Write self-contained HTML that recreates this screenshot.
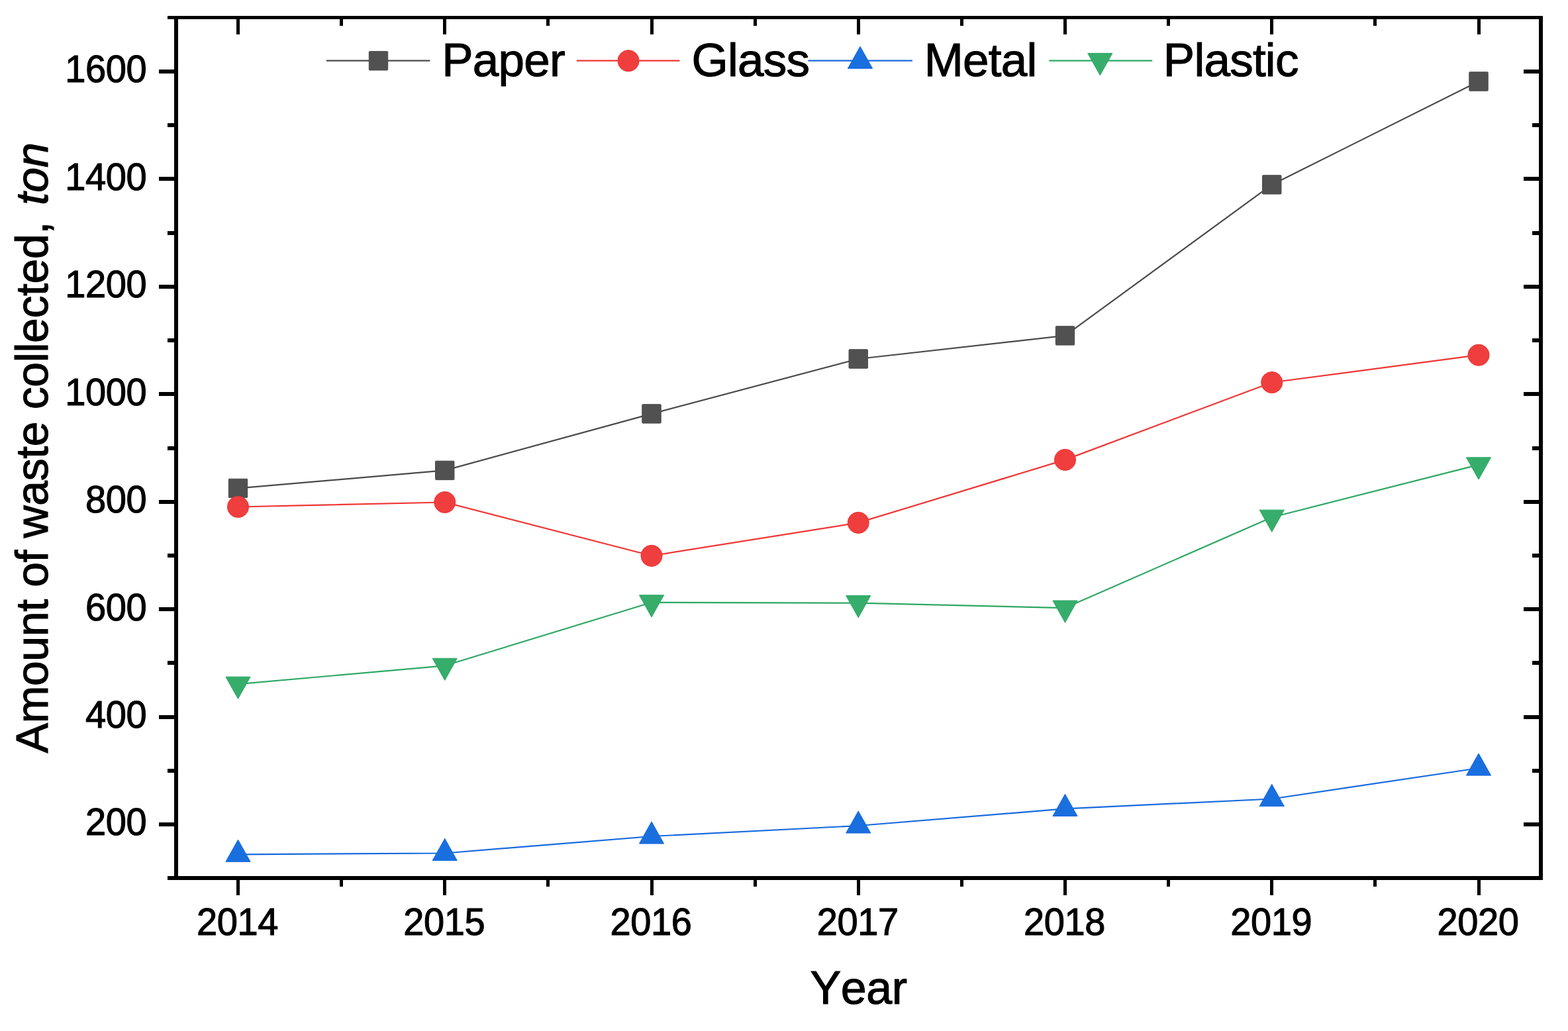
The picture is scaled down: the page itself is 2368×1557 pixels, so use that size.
<!DOCTYPE html>
<html><head><meta charset="utf-8"><title>Amount of waste collected</title>
<style>
html,body{margin:0;padding:0;background:#fff;}
svg{display:block;}
text{font-family:"Liberation Sans",Arial,sans-serif;font-kerning:none;fill:#000;}
</style></head>
<body>
<svg width="2368" height="1557" viewBox="0 0 2368 1557">
<rect x="0" y="0" width="2368" height="1557" fill="#fff"/>
<g id="data">
<polyline points="359.5,737.4 671.75,710.4 984,624.9 1296.25,542 1608.5,506.9 1920.75,278.9 2233,123" fill="none" stroke="#4A4A4A" stroke-width="2.2" stroke-linejoin="round"/>
<rect x="345.3" y="723.2" width="28.4" height="28.4" rx="1" fill="#515151" stroke="#4A4A4A" stroke-width="1"/>
<rect x="657.55" y="696.2" width="28.4" height="28.4" rx="1" fill="#515151" stroke="#4A4A4A" stroke-width="1"/>
<rect x="969.8" y="610.7" width="28.4" height="28.4" rx="1" fill="#515151" stroke="#4A4A4A" stroke-width="1"/>
<rect x="1282.05" y="527.8" width="28.4" height="28.4" rx="1" fill="#515151" stroke="#4A4A4A" stroke-width="1"/>
<rect x="1594.3" y="492.7" width="28.4" height="28.4" rx="1" fill="#515151" stroke="#4A4A4A" stroke-width="1"/>
<rect x="1906.55" y="264.7" width="28.4" height="28.4" rx="1" fill="#515151" stroke="#4A4A4A" stroke-width="1"/>
<rect x="2218.8" y="108.8" width="28.4" height="28.4" rx="1" fill="#515151" stroke="#4A4A4A" stroke-width="1"/>
<polyline points="359.5,765.5 671.75,758.5 984,839.3 1296.25,789.4 1608.5,694.4 1920.75,577.5 2233,536.2" fill="none" stroke="#EF3535" stroke-width="2.2" stroke-linejoin="round"/>
<circle cx="359.5" cy="765.5" r="16.1" fill="#F03E3E" stroke="#EF3535" stroke-width="1"/>
<circle cx="671.75" cy="758.5" r="16.1" fill="#F03E3E" stroke="#EF3535" stroke-width="1"/>
<circle cx="984" cy="839.3" r="16.1" fill="#F03E3E" stroke="#EF3535" stroke-width="1"/>
<circle cx="1296.25" cy="789.4" r="16.1" fill="#F03E3E" stroke="#EF3535" stroke-width="1"/>
<circle cx="1608.5" cy="694.4" r="16.1" fill="#F03E3E" stroke="#EF3535" stroke-width="1"/>
<circle cx="1920.75" cy="577.5" r="16.1" fill="#F03E3E" stroke="#EF3535" stroke-width="1"/>
<circle cx="2233" cy="536.2" r="16.1" fill="#F03E3E" stroke="#EF3535" stroke-width="1"/>
<polyline points="359.5,1290.3 671.75,1288.5 984,1263 1296.25,1247 1608.5,1221.4 1920.75,1206.5 2233,1160" fill="none" stroke="#176BDE" stroke-width="2.2" stroke-linejoin="round"/>
<polygon points="359.5,1268.17 378.1,1301.37 340.9,1301.37" fill="#1A6FDF" stroke="#176BDE" stroke-width="1" stroke-linejoin="round"/>
<polygon points="671.75,1266.37 690.35,1299.57 653.15,1299.57" fill="#1A6FDF" stroke="#176BDE" stroke-width="1" stroke-linejoin="round"/>
<polygon points="984,1240.87 1002.6,1274.07 965.4,1274.07" fill="#1A6FDF" stroke="#176BDE" stroke-width="1" stroke-linejoin="round"/>
<polygon points="1296.25,1224.87 1314.85,1258.07 1277.65,1258.07" fill="#1A6FDF" stroke="#176BDE" stroke-width="1" stroke-linejoin="round"/>
<polygon points="1608.5,1199.27 1627.1,1232.47 1589.9,1232.47" fill="#1A6FDF" stroke="#176BDE" stroke-width="1" stroke-linejoin="round"/>
<polygon points="1920.75,1184.37 1939.35,1217.57 1902.15,1217.57" fill="#1A6FDF" stroke="#176BDE" stroke-width="1" stroke-linejoin="round"/>
<polygon points="2233,1137.87 2251.6,1171.07 2214.4,1171.07" fill="#1A6FDF" stroke="#176BDE" stroke-width="1" stroke-linejoin="round"/>
<polyline points="359.5,1033.2 671.75,1005.3 984,909.8 1296.25,910.6 1608.5,918.1 1920.75,781.2 2233,701.9" fill="none" stroke="#2DA864" stroke-width="2.2" stroke-linejoin="round"/>
<polygon points="340.9,1022.13 378.1,1022.13 359.5,1055.33" fill="#37AD6B" stroke="#2DA864" stroke-width="1" stroke-linejoin="round"/>
<polygon points="653.15,994.23 690.35,994.23 671.75,1027.43" fill="#37AD6B" stroke="#2DA864" stroke-width="1" stroke-linejoin="round"/>
<polygon points="965.4,898.73 1002.6,898.73 984,931.93" fill="#37AD6B" stroke="#2DA864" stroke-width="1" stroke-linejoin="round"/>
<polygon points="1277.65,899.53 1314.85,899.53 1296.25,932.73" fill="#37AD6B" stroke="#2DA864" stroke-width="1" stroke-linejoin="round"/>
<polygon points="1589.9,907.03 1627.1,907.03 1608.5,940.23" fill="#37AD6B" stroke="#2DA864" stroke-width="1" stroke-linejoin="round"/>
<polygon points="1902.15,770.13 1939.35,770.13 1920.75,803.33" fill="#37AD6B" stroke="#2DA864" stroke-width="1" stroke-linejoin="round"/>
<polygon points="2214.4,690.83 2251.6,690.83 2233,724.03" fill="#37AD6B" stroke="#2DA864" stroke-width="1" stroke-linejoin="round"/>
</g>
<g id="axes" shape-rendering="crispEdges">
<rect x="263" y="24" width="6" height="1305" fill="#000"/>
<rect x="2324" y="24" width="6" height="1305" fill="#000"/>
<rect x="253" y="24" width="2077" height="5" fill="#000"/>
<rect x="253" y="1323" width="2077" height="6" fill="#000"/>
<rect x="240" y="1242" width="23" height="6" fill="#000"/>
<rect x="2301" y="1242" width="23" height="6" fill="#000"/>
<rect x="240" y="1079.57" width="23" height="6" fill="#000"/>
<rect x="2301" y="1079.57" width="23" height="6" fill="#000"/>
<rect x="240" y="917.14" width="23" height="6" fill="#000"/>
<rect x="2301" y="917.14" width="23" height="6" fill="#000"/>
<rect x="240" y="754.71" width="23" height="6" fill="#000"/>
<rect x="2301" y="754.71" width="23" height="6" fill="#000"/>
<rect x="240" y="592.29" width="23" height="6" fill="#000"/>
<rect x="2301" y="592.29" width="23" height="6" fill="#000"/>
<rect x="240" y="429.86" width="23" height="6" fill="#000"/>
<rect x="2301" y="429.86" width="23" height="6" fill="#000"/>
<rect x="240" y="267.43" width="23" height="6" fill="#000"/>
<rect x="2301" y="267.43" width="23" height="6" fill="#000"/>
<rect x="240" y="105" width="23" height="6" fill="#000"/>
<rect x="2301" y="105" width="23" height="6" fill="#000"/>
<rect x="253" y="1160.79" width="10" height="6" fill="#000"/>
<rect x="2314" y="1160.79" width="10" height="6" fill="#000"/>
<rect x="253" y="998.36" width="10" height="6" fill="#000"/>
<rect x="2314" y="998.36" width="10" height="6" fill="#000"/>
<rect x="253" y="835.93" width="10" height="6" fill="#000"/>
<rect x="2314" y="835.93" width="10" height="6" fill="#000"/>
<rect x="253" y="673.5" width="10" height="6" fill="#000"/>
<rect x="2314" y="673.5" width="10" height="6" fill="#000"/>
<rect x="253" y="511.07" width="10" height="6" fill="#000"/>
<rect x="2314" y="511.07" width="10" height="6" fill="#000"/>
<rect x="253" y="348.64" width="10" height="6" fill="#000"/>
<rect x="2314" y="348.64" width="10" height="6" fill="#000"/>
<rect x="253" y="186.21" width="10" height="6" fill="#000"/>
<rect x="2314" y="186.21" width="10" height="6" fill="#000"/>
<rect x="357" y="1329" width="5" height="23" fill="#000"/>
<rect x="357" y="29" width="5" height="23" fill="#000"/>
<rect x="669.25" y="1329" width="5" height="23" fill="#000"/>
<rect x="669.25" y="29" width="5" height="23" fill="#000"/>
<rect x="981.5" y="1329" width="5" height="23" fill="#000"/>
<rect x="981.5" y="29" width="5" height="23" fill="#000"/>
<rect x="1293.75" y="1329" width="5" height="23" fill="#000"/>
<rect x="1293.75" y="29" width="5" height="23" fill="#000"/>
<rect x="1606" y="1329" width="5" height="23" fill="#000"/>
<rect x="1606" y="29" width="5" height="23" fill="#000"/>
<rect x="1918.25" y="1329" width="5" height="23" fill="#000"/>
<rect x="1918.25" y="29" width="5" height="23" fill="#000"/>
<rect x="2230.5" y="1329" width="5" height="23" fill="#000"/>
<rect x="2230.5" y="29" width="5" height="23" fill="#000"/>
<rect x="513.12" y="1329" width="5" height="10" fill="#000"/>
<rect x="513.12" y="29" width="5" height="10" fill="#000"/>
<rect x="825.38" y="1329" width="5" height="10" fill="#000"/>
<rect x="825.38" y="29" width="5" height="10" fill="#000"/>
<rect x="1137.62" y="1329" width="5" height="10" fill="#000"/>
<rect x="1137.62" y="29" width="5" height="10" fill="#000"/>
<rect x="1449.88" y="1329" width="5" height="10" fill="#000"/>
<rect x="1449.88" y="29" width="5" height="10" fill="#000"/>
<rect x="1762.12" y="1329" width="5" height="10" fill="#000"/>
<rect x="1762.12" y="29" width="5" height="10" fill="#000"/>
<rect x="2074.38" y="1329" width="5" height="10" fill="#000"/>
<rect x="2074.38" y="29" width="5" height="10" fill="#000"/>
</g>
<g id="legend">
<line x1="492.8" y1="91.7" x2="649.4" y2="91.7" stroke="#4A4A4A" stroke-width="2.2"/>
<rect x="557.3" y="77.6" width="28.4" height="28.4" rx="1" fill="#515151" stroke="#4A4A4A" stroke-width="1"/>
<line x1="870.9" y1="91.7" x2="1026.5" y2="91.7" stroke="#EF3535" stroke-width="2.2"/>
<circle cx="949" cy="91.8" r="16.1" fill="#F03E3E" stroke="#EF3535" stroke-width="1"/>
<line x1="1220.4" y1="91.7" x2="1377.9" y2="91.7" stroke="#176BDE" stroke-width="2.2"/>
<polygon points="1299,70.17 1317.6,103.37 1280.4,103.37" fill="#1A6FDF" stroke="#176BDE" stroke-width="1" stroke-linejoin="round"/>
<line x1="1584.4" y1="91.7" x2="1740.2" y2="91.7" stroke="#2DA864" stroke-width="2.2"/>
<polygon points="1642.7,80.43 1679.9,80.43 1661.3,113.63" fill="#37AD6B" stroke="#2DA864" stroke-width="1" stroke-linejoin="round"/>
<text transform="translate(667.13,115)" font-size="71" letter-spacing="-0.75" stroke="#000" stroke-width="1.1">Paper</text>
<text transform="translate(1044.43,115)" font-size="71" letter-spacing="-0.75" stroke="#000" stroke-width="1.1">Glass</text>
<text transform="translate(1395.7,115)" font-size="71" letter-spacing="-0.75" stroke="#000" stroke-width="1.1">Metal</text>
<text transform="translate(1756.78,115)" font-size="71" letter-spacing="-0.75" stroke="#000" stroke-width="1.1">Plastic</text>
</g>
<g id="labels">
<text transform="translate(358.5,1411.8) scale(1,1.04)" font-size="56" text-anchor="middle" letter-spacing="-0.37" stroke="#000" stroke-width="1.1">2014</text>
<text transform="translate(670.75,1411.8) scale(1,1.04)" font-size="56" text-anchor="middle" letter-spacing="-0.37" stroke="#000" stroke-width="1.1">2015</text>
<text transform="translate(983,1411.8) scale(1,1.04)" font-size="56" text-anchor="middle" letter-spacing="-0.37" stroke="#000" stroke-width="1.1">2016</text>
<text transform="translate(1295.25,1411.8) scale(1,1.04)" font-size="56" text-anchor="middle" letter-spacing="-0.37" stroke="#000" stroke-width="1.1">2017</text>
<text transform="translate(1607.5,1411.8) scale(1,1.04)" font-size="56" text-anchor="middle" letter-spacing="-0.37" stroke="#000" stroke-width="1.1">2018</text>
<text transform="translate(1919.75,1411.8) scale(1,1.04)" font-size="56" text-anchor="middle" letter-spacing="-0.37" stroke="#000" stroke-width="1.1">2019</text>
<text transform="translate(2232,1411.8) scale(1,1.04)" font-size="56" text-anchor="middle" letter-spacing="-0.37" stroke="#000" stroke-width="1.1">2020</text>
<text transform="translate(221.3,1261.4) scale(1,1.04)" font-size="56" text-anchor="end" letter-spacing="-0.37" stroke="#000" stroke-width="1.1">200</text>
<text transform="translate(221.3,1098.97) scale(1,1.04)" font-size="56" text-anchor="end" letter-spacing="-0.37" stroke="#000" stroke-width="1.1">400</text>
<text transform="translate(221.3,936.54) scale(1,1.04)" font-size="56" text-anchor="end" letter-spacing="-0.37" stroke="#000" stroke-width="1.1">600</text>
<text transform="translate(221.3,774.11) scale(1,1.04)" font-size="56" text-anchor="end" letter-spacing="-0.37" stroke="#000" stroke-width="1.1">800</text>
<text transform="translate(221.3,611.69) scale(1,1.04)" font-size="56" text-anchor="end" letter-spacing="-0.37" stroke="#000" stroke-width="1.1">1000</text>
<text transform="translate(221.3,449.26) scale(1,1.04)" font-size="56" text-anchor="end" letter-spacing="-0.37" stroke="#000" stroke-width="1.1">1200</text>
<text transform="translate(221.3,286.83) scale(1,1.04)" font-size="56" text-anchor="end" letter-spacing="-0.37" stroke="#000" stroke-width="1.1">1400</text>
<text transform="translate(221.3,124.4) scale(1,1.04)" font-size="56" text-anchor="end" letter-spacing="-0.37" stroke="#000" stroke-width="1.1">1600</text>
<text transform="translate(1223.4,1515.9)" font-size="70" letter-spacing="-0.39" stroke="#000" stroke-width="1.1">Year</text>
<text transform="translate(72,1137.3) rotate(-90)" font-size="68" letter-spacing="-0.4" stroke="#000" stroke-width="1.1">Amount of waste collected, <tspan font-style="italic" letter-spacing="0" dx="6.86">ton</tspan></text>
</g>
</svg>
</body></html>
